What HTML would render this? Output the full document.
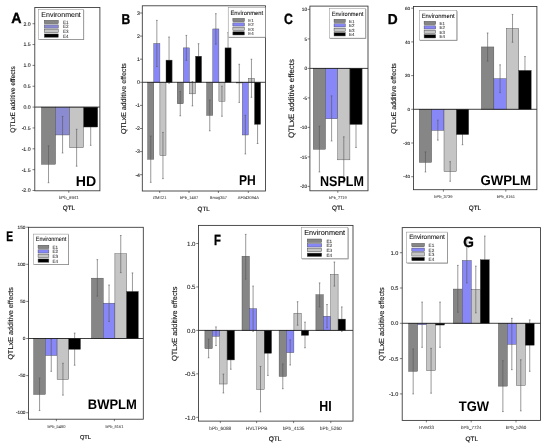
<!DOCTYPE html>
<html lang="en"><head><meta charset="utf-8"><title>QTLxE additive effects</title>
<style>html,body{margin:0;padding:0;background:#fff}body{width:550px;height:447px;overflow:hidden}svg{display:block;font-family:'Liberation Sans', 'DejaVu Sans', sans-serif;text-rendering:geometricPrecision}</style>
</head><body>
<svg width="550" height="447" viewBox="0 0 550 447">
<defs><filter id="soft" x="-2%" y="-2%" width="104%" height="104%"><feGaussianBlur stdDeviation="0.42"/></filter></defs>
<rect width="550" height="447" fill="#fff"/>
<g filter="url(#soft)">
<g id="panel-A">
<path d="M90.68 108.77V145.3M89.88 108.77h1.6M89.88 145.3h1.6" stroke="#555" stroke-width="0.6" fill="none"/>
<rect x="41.5" y="107.1" width="14.05" height="57.13" fill="#868686" stroke="#444" stroke-width="0.4"/>
<rect x="55.55" y="107.1" width="14.05" height="27.86" fill="#8b8bd2" stroke="#444" stroke-width="0.4"/>
<rect x="69.6" y="107.1" width="14.05" height="40.66" fill="#c5c5c5" stroke="#444" stroke-width="0.4"/>
<rect x="83.65" y="107.1" width="14.05" height="19.93" fill="#050505" stroke="#444" stroke-width="0.4"/>
<path d="M48.52 145.8V182.7M47.73 145.8h1.6M47.73 182.7h1.6" stroke="#555" stroke-width="0.6" fill="none"/>
<path d="M62.57 116.48V152.97M61.77 116.48h1.6M61.77 152.97h1.6" stroke="#555" stroke-width="0.6" fill="none"/>
<path d="M76.62 129.28V166.19M75.83 129.28h1.6M75.83 166.19h1.6" stroke="#555" stroke-width="0.6" fill="none"/>
<path d="M34.8 107.1H99.9" stroke="#111" stroke-width="0.8"/>
<rect x="34.8" y="7.5" width="65.1" height="183.3" fill="none" stroke="#333" stroke-width="0.85"/>
<text x="30.6" y="25.57" font-size="5.2" text-anchor="end" fill="#2a2a2a" stroke="#2a2a2a" stroke-width="0.12">2.0</text>
<text x="30.6" y="46.42" font-size="5.2" text-anchor="end" fill="#2a2a2a" stroke="#2a2a2a" stroke-width="0.12">1.5</text>
<text x="30.6" y="67.27" font-size="5.2" text-anchor="end" fill="#2a2a2a" stroke="#2a2a2a" stroke-width="0.12">1.0</text>
<text x="30.6" y="88.12" font-size="5.2" text-anchor="end" fill="#2a2a2a" stroke="#2a2a2a" stroke-width="0.12">0.5</text>
<text x="30.6" y="108.97" font-size="5.2" text-anchor="end" fill="#2a2a2a" stroke="#2a2a2a" stroke-width="0.12">0.0</text>
<text x="30.6" y="129.82" font-size="5.2" text-anchor="end" fill="#2a2a2a" stroke="#2a2a2a" stroke-width="0.12">-0.5</text>
<text x="30.6" y="150.67" font-size="5.2" text-anchor="end" fill="#2a2a2a" stroke="#2a2a2a" stroke-width="0.12">-1.0</text>
<text x="30.6" y="171.52" font-size="5.2" text-anchor="end" fill="#2a2a2a" stroke="#2a2a2a" stroke-width="0.12">-1.5</text>
<text x="30.6" y="192.37" font-size="5.2" text-anchor="end" fill="#2a2a2a" stroke="#2a2a2a" stroke-width="0.12">-2.0</text>
<text x="68.8" y="198.95" font-size="4.3" text-anchor="middle" fill="#444" stroke="#444" stroke-width="0.06">bPb_6941</text>
<path d="M32.5 23.7H34.8M32.5 44.55H34.8M32.5 65.4H34.8M32.5 86.25H34.8M32.5 107.1H34.8M32.5 127.95H34.8M32.5 148.8H34.8M32.5 169.65H34.8M32.5 190.5H34.8M68.8 190.8V192.8" stroke="#2a2a2a" stroke-width="0.6" fill="none"/>
<text x="68.9" y="209.87" font-size="6.3" text-anchor="middle" fill="#111" stroke="#111" stroke-width="0.18">QTL</text>
<text x="14.88" y="99.5" font-size="6.6" text-anchor="middle" fill="#111" stroke="#111" stroke-width="0.12" textLength="66.4" lengthAdjust="spacingAndGlyphs" transform="rotate(-90 14.88 99.5)">QTLxE additive effects</text>
<rect x="39.3" y="9.9" width="44.8" height="30.1" fill="#777"/>
<rect x="38.7" y="9.3" width="44.8" height="30.1" fill="#fff" stroke="#8a8a8a" stroke-width="0.5"/>
<text x="41.39" y="16.52" font-size="7.02" text-anchor="start" fill="#111" stroke="#111" stroke-width="0.08" textLength="39.42" lengthAdjust="spacingAndGlyphs">Environment</text>
<rect x="44.34" y="20.35" width="13.89" height="3.25" fill="#868686" stroke="#444" stroke-width="0.45"/>
<text x="62.89" y="23.9" font-size="4.51" text-anchor="start" fill="#3a3a3a" stroke="#3a3a3a" stroke-width="0.08">E1</text>
<rect x="44.34" y="24.89" width="13.89" height="3.25" fill="#8b8bd2" stroke="#444" stroke-width="0.45"/>
<text x="62.89" y="28.44" font-size="4.51" text-anchor="start" fill="#3a3a3a" stroke="#3a3a3a" stroke-width="0.08">E2</text>
<rect x="44.34" y="29.44" width="13.89" height="3.25" fill="#c5c5c5" stroke="#444" stroke-width="0.45"/>
<text x="62.89" y="32.99" font-size="4.51" text-anchor="start" fill="#3a3a3a" stroke="#3a3a3a" stroke-width="0.08">E3</text>
<rect x="44.34" y="33.98" width="13.89" height="3.25" fill="#050505" stroke="#444" stroke-width="0.45"/>
<text x="62.89" y="37.53" font-size="4.51" text-anchor="start" fill="#3a3a3a" stroke="#3a3a3a" stroke-width="0.08">E4</text>
<text x="11.3" y="23.3" font-size="14.8" text-anchor="start" fill="#000" font-weight="bold" textLength="10.3" lengthAdjust="spacingAndGlyphs" stroke="#000" stroke-width="0.35">A</text>
<text x="75.8" y="186" font-size="14.25" text-anchor="start" fill="#000" font-weight="bold" textLength="20.4" lengthAdjust="spacingAndGlyphs">HD</text>
</g>
<g id="panel-B">
<path d="M169.05 37.02V83.22M168.25 37.02h1.6M168.25 83.22h1.6" stroke="#555" stroke-width="0.6" fill="none"/>
<rect x="147.7" y="82.3" width="6.1" height="76.92" fill="#868686" stroke="#444" stroke-width="0.4"/>
<rect x="153.8" y="43.49" width="6.1" height="38.81" fill="#8787f7" stroke="#444" stroke-width="0.4"/>
<rect x="159.9" y="82.3" width="6.1" height="73.23" fill="#c5c5c5" stroke="#444" stroke-width="0.4"/>
<rect x="166" y="60.12" width="6.1" height="22.18" fill="#050505" stroke="#444" stroke-width="0.4"/>
<path d="M150.75 136.12V182.32M149.95 136.12h1.6M149.95 182.32h1.6" stroke="#555" stroke-width="0.6" fill="none"/>
<path d="M156.85 20.39V66.59M156.05 20.39h1.6M156.05 66.59h1.6" stroke="#555" stroke-width="0.6" fill="none"/>
<path d="M162.95 132.43V178.63M162.15 132.43h1.6M162.15 178.63h1.6" stroke="#555" stroke-width="0.6" fill="none"/>
<path d="M198.55 43.72V68.44M197.75 43.72h1.6M197.75 68.44h1.6" stroke="#555" stroke-width="0.6" fill="none"/>
<rect x="177.2" y="82.3" width="6.1" height="21.48" fill="#868686" stroke="#444" stroke-width="0.4"/>
<rect x="183.3" y="47.88" width="6.1" height="34.42" fill="#8787f7" stroke="#444" stroke-width="0.4"/>
<rect x="189.4" y="82.3" width="6.1" height="11.55" fill="#c5c5c5" stroke="#444" stroke-width="0.4"/>
<rect x="195.5" y="56.2" width="6.1" height="26.1" fill="#050505" stroke="#444" stroke-width="0.4"/>
<path d="M180.25 91.54V115.8M179.45 91.54h1.6M179.45 115.8h1.6" stroke="#555" stroke-width="0.6" fill="none"/>
<path d="M186.35 35.41V60.35M185.55 35.41h1.6M185.55 60.35h1.6" stroke="#555" stroke-width="0.6" fill="none"/>
<path d="M192.45 81.61V105.86M191.65 81.61h1.6M191.65 105.86h1.6" stroke="#555" stroke-width="0.6" fill="none"/>
<path d="M228.05 32.63V63.13M227.25 32.63h1.6M227.25 63.13h1.6" stroke="#555" stroke-width="0.6" fill="none"/>
<rect x="206.7" y="82.3" width="6.1" height="33.03" fill="#868686" stroke="#444" stroke-width="0.4"/>
<rect x="212.8" y="28.94" width="6.1" height="53.36" fill="#8787f7" stroke="#444" stroke-width="0.4"/>
<rect x="218.9" y="82.3" width="6.1" height="18.94" fill="#c5c5c5" stroke="#444" stroke-width="0.4"/>
<rect x="225" y="47.88" width="6.1" height="34.42" fill="#050505" stroke="#444" stroke-width="0.4"/>
<path d="M209.75 100.09V130.81M208.95 100.09h1.6M208.95 130.81h1.6" stroke="#555" stroke-width="0.6" fill="none"/>
<path d="M215.85 13.69V44.18M215.05 13.69h1.6M215.05 44.18h1.6" stroke="#555" stroke-width="0.6" fill="none"/>
<path d="M221.95 86.23V116.26M221.15 86.23h1.6M221.15 116.26h1.6" stroke="#555" stroke-width="0.6" fill="none"/>
<path d="M257.55 105.4V143.51M256.75 105.4h1.6M256.75 143.51h1.6" stroke="#555" stroke-width="0.6" fill="none"/>
<rect x="236.2" y="82.3" width="6.1" height="0.69" fill="#868686" stroke="#444" stroke-width="0.4"/>
<rect x="242.3" y="82.3" width="6.1" height="52.67" fill="#8787f7" stroke="#444" stroke-width="0.4"/>
<rect x="248.4" y="78.37" width="6.1" height="3.93" fill="#c5c5c5" stroke="#444" stroke-width="0.4"/>
<rect x="254.5" y="82.3" width="6.1" height="42.04" fill="#050505" stroke="#444" stroke-width="0.4"/>
<path d="M239.25 64.28V102.4M238.45 64.28h1.6M238.45 102.4h1.6" stroke="#555" stroke-width="0.6" fill="none"/>
<path d="M245.35 115.33V153.91M244.55 115.33h1.6M244.55 153.91h1.6" stroke="#555" stroke-width="0.6" fill="none"/>
<path d="M251.45 59.2V97.31M250.65 59.2h1.6M250.65 97.31h1.6" stroke="#555" stroke-width="0.6" fill="none"/>
<path d="M142.3 82.3H265.5" stroke="#111" stroke-width="0.8"/>
<rect x="142.3" y="5.8" width="123.2" height="185.2" fill="none" stroke="#333" stroke-width="0.85"/>
<text x="140" y="14.87" font-size="5.2" text-anchor="end" fill="#2a2a2a" stroke="#2a2a2a" stroke-width="0.12">3</text>
<text x="140" y="37.97" font-size="5.2" text-anchor="end" fill="#2a2a2a" stroke="#2a2a2a" stroke-width="0.12">2</text>
<text x="140" y="61.07" font-size="5.2" text-anchor="end" fill="#2a2a2a" stroke="#2a2a2a" stroke-width="0.12">1</text>
<text x="140" y="84.17" font-size="5.2" text-anchor="end" fill="#2a2a2a" stroke="#2a2a2a" stroke-width="0.12">0</text>
<text x="140" y="107.27" font-size="5.2" text-anchor="end" fill="#2a2a2a" stroke="#2a2a2a" stroke-width="0.12">-1</text>
<text x="140" y="130.37" font-size="5.2" text-anchor="end" fill="#2a2a2a" stroke="#2a2a2a" stroke-width="0.12">-2</text>
<text x="140" y="153.47" font-size="5.2" text-anchor="end" fill="#2a2a2a" stroke="#2a2a2a" stroke-width="0.12">-3</text>
<text x="140" y="176.57" font-size="5.2" text-anchor="end" fill="#2a2a2a" stroke="#2a2a2a" stroke-width="0.12">-4</text>
<text x="159.7" y="198.64" font-size="4" text-anchor="middle" fill="#444" stroke="#444" stroke-width="0.06">GMS21</text>
<text x="189" y="198.64" font-size="4" text-anchor="middle" fill="#444" stroke="#444" stroke-width="0.06">bPb_1487</text>
<text x="218.4" y="198.64" font-size="4" text-anchor="middle" fill="#444" stroke="#444" stroke-width="0.06">Bmag357</text>
<text x="248.3" y="198.64" font-size="4" text-anchor="middle" fill="#444" stroke="#444" stroke-width="0.06">AF043094A</text>
<path d="M140 13H142.3M140 36.1H142.3M140 59.2H142.3M140 82.3H142.3M140 105.4H142.3M140 128.5H142.3M140 151.6H142.3M140 174.7H142.3M159.7 191V193M189 191V193M218.4 191V193M248.3 191V193" stroke="#2a2a2a" stroke-width="0.6" fill="none"/>
<text x="203.6" y="210.93" font-size="6.2" text-anchor="middle" fill="#111" stroke="#111" stroke-width="0.18">QTL</text>
<text x="125.94" y="98.6" font-size="7.06" text-anchor="middle" fill="#111" stroke="#111" stroke-width="0.12" textLength="71" lengthAdjust="spacingAndGlyphs" transform="rotate(-90 125.94 98.6)">QTLxE additive effects</text>
<rect x="228.8" y="8.2" width="37.1" height="29.5" fill="#777"/>
<rect x="228.2" y="7.6" width="37.1" height="29.5" fill="#fff" stroke="#8a8a8a" stroke-width="0.5"/>
<text x="230.43" y="14.68" font-size="6.05" text-anchor="start" fill="#111" stroke="#111" stroke-width="0.08" textLength="32.65" lengthAdjust="spacingAndGlyphs">Environment</text>
<rect x="232.87" y="18.43" width="11.5" height="3.19" fill="#868686" stroke="#444" stroke-width="0.45"/>
<text x="248.23" y="21.91" font-size="4.42" text-anchor="start" fill="#3a3a3a" stroke="#3a3a3a" stroke-width="0.08">E1</text>
<rect x="232.87" y="22.88" width="11.5" height="3.19" fill="#8787f7" stroke="#444" stroke-width="0.45"/>
<text x="248.23" y="26.36" font-size="4.42" text-anchor="start" fill="#3a3a3a" stroke="#3a3a3a" stroke-width="0.08">E2</text>
<rect x="232.87" y="27.34" width="11.5" height="3.19" fill="#c5c5c5" stroke="#444" stroke-width="0.45"/>
<text x="248.23" y="30.82" font-size="4.42" text-anchor="start" fill="#3a3a3a" stroke="#3a3a3a" stroke-width="0.08">E3</text>
<rect x="232.87" y="31.79" width="11.5" height="3.19" fill="#050505" stroke="#444" stroke-width="0.45"/>
<text x="248.23" y="35.27" font-size="4.42" text-anchor="start" fill="#3a3a3a" stroke="#3a3a3a" stroke-width="0.08">E4</text>
<text x="121.6" y="24.1" font-size="14.25" text-anchor="start" fill="#000" font-weight="bold" textLength="8.7" lengthAdjust="spacingAndGlyphs" stroke="#000" stroke-width="0.35">B</text>
<text x="239" y="184.7" font-size="14.11" text-anchor="start" fill="#000" font-weight="bold" textLength="16.8" lengthAdjust="spacingAndGlyphs">PH</text>
</g>
<g id="panel-C">
<path d="M356 101.44V147.46M355.2 101.44h1.6M355.2 147.46h1.6" stroke="#555" stroke-width="0.6" fill="none"/>
<rect x="313.3" y="68.4" width="12.2" height="80.83" fill="#868686" stroke="#444" stroke-width="0.4"/>
<rect x="325.5" y="68.4" width="12.2" height="50.39" fill="#8787f7" stroke="#444" stroke-width="0.4"/>
<rect x="337.7" y="68.4" width="12.2" height="91.45" fill="#c5c5c5" stroke="#444" stroke-width="0.4"/>
<rect x="349.9" y="68.4" width="12.2" height="56.05" fill="#050505" stroke="#444" stroke-width="0.4"/>
<path d="M319.4 126.22V171.95M318.6 126.22h1.6M318.6 171.95h1.6" stroke="#555" stroke-width="0.6" fill="none"/>
<path d="M331.6 95.89V140.97M330.8 95.89h1.6M330.8 140.97h1.6" stroke="#555" stroke-width="0.6" fill="none"/>
<path d="M343.8 136.84V182.86M343 136.84h1.6M343 182.86h1.6" stroke="#555" stroke-width="0.6" fill="none"/>
<path d="M309.9 68.4H368" stroke="#111" stroke-width="0.8"/>
<rect x="309.9" y="6.1" width="58.1" height="184.7" fill="none" stroke="#333" stroke-width="0.85"/>
<text x="307.2" y="11.13" font-size="4.8" text-anchor="end" fill="#2a2a2a" stroke="#2a2a2a" stroke-width="0.12">10</text>
<text x="307.2" y="40.63" font-size="4.8" text-anchor="end" fill="#2a2a2a" stroke="#2a2a2a" stroke-width="0.12">5</text>
<text x="307.2" y="70.13" font-size="4.8" text-anchor="end" fill="#2a2a2a" stroke="#2a2a2a" stroke-width="0.12">0</text>
<text x="307.2" y="99.63" font-size="4.8" text-anchor="end" fill="#2a2a2a" stroke="#2a2a2a" stroke-width="0.12">-5</text>
<text x="307.2" y="129.13" font-size="4.8" text-anchor="end" fill="#2a2a2a" stroke="#2a2a2a" stroke-width="0.12">-10</text>
<text x="307.2" y="158.63" font-size="4.8" text-anchor="end" fill="#2a2a2a" stroke="#2a2a2a" stroke-width="0.12">-15</text>
<text x="307.2" y="188.13" font-size="4.8" text-anchor="end" fill="#2a2a2a" stroke="#2a2a2a" stroke-width="0.12">-20</text>
<text x="337.8" y="198.6" font-size="3.9" text-anchor="middle" fill="#444" stroke="#444" stroke-width="0.06">bPb_7719</text>
<path d="M307.6 9.4H309.9M307.6 38.9H309.9M307.6 68.4H309.9M307.6 97.9H309.9M307.6 127.4H309.9M307.6 156.9H309.9M307.6 186.4H309.9M337.8 190.8V192.8" stroke="#2a2a2a" stroke-width="0.6" fill="none"/>
<text x="338.2" y="210.37" font-size="6.3" text-anchor="middle" fill="#111" stroke="#111" stroke-width="0.18">QTL</text>
<text x="294.03" y="98.6" font-size="7.85" text-anchor="middle" fill="#111" stroke="#111" stroke-width="0.12" textLength="79" lengthAdjust="spacingAndGlyphs" transform="rotate(-90 294.03 98.6)">QTLxE additive effects</text>
<rect x="330.1" y="9" width="36.1" height="29.7" fill="#777"/>
<rect x="329.5" y="8.4" width="36.1" height="29.7" fill="#fff" stroke="#8a8a8a" stroke-width="0.5"/>
<text x="331.67" y="15.53" font-size="6.09" text-anchor="start" fill="#111" stroke="#111" stroke-width="0.08" textLength="31.77" lengthAdjust="spacingAndGlyphs">Environment</text>
<rect x="334.05" y="19.3" width="11.19" height="3.21" fill="#868686" stroke="#444" stroke-width="0.45"/>
<text x="348.99" y="22.8" font-size="4.46" text-anchor="start" fill="#3a3a3a" stroke="#3a3a3a" stroke-width="0.08">E1</text>
<rect x="334.05" y="23.78" width="11.19" height="3.21" fill="#8787f7" stroke="#444" stroke-width="0.45"/>
<text x="348.99" y="27.29" font-size="4.46" text-anchor="start" fill="#3a3a3a" stroke="#3a3a3a" stroke-width="0.08">E2</text>
<rect x="334.05" y="28.27" width="11.19" height="3.21" fill="#c5c5c5" stroke="#444" stroke-width="0.45"/>
<text x="348.99" y="31.77" font-size="4.46" text-anchor="start" fill="#3a3a3a" stroke="#3a3a3a" stroke-width="0.08">E3</text>
<rect x="334.05" y="32.75" width="11.19" height="3.21" fill="#050505" stroke="#444" stroke-width="0.45"/>
<text x="348.99" y="36.26" font-size="4.46" text-anchor="start" fill="#3a3a3a" stroke="#3a3a3a" stroke-width="0.08">E4</text>
<text x="284.1" y="23.6" font-size="14.94" text-anchor="start" fill="#000" font-weight="bold" textLength="8.9" lengthAdjust="spacingAndGlyphs" stroke="#000" stroke-width="0.35">C</text>
<text x="320" y="186" font-size="14.11" text-anchor="start" fill="#000" font-weight="bold" textLength="44" lengthAdjust="spacingAndGlyphs">NSPLM</text>
</g>
<g id="panel-D">
<path d="M462.53 124.47V144.69M461.73 124.47h1.6M461.73 144.69h1.6" stroke="#555" stroke-width="0.6" fill="none"/>
<rect x="419.3" y="109.3" width="12.35" height="53.08" fill="#868686" stroke="#444" stroke-width="0.4"/>
<rect x="431.65" y="109.3" width="12.35" height="21.06" fill="#8787f7" stroke="#444" stroke-width="0.4"/>
<rect x="444" y="109.3" width="12.35" height="62.34" fill="#c5c5c5" stroke="#444" stroke-width="0.4"/>
<rect x="456.35" y="109.3" width="12.35" height="25.27" fill="#050505" stroke="#444" stroke-width="0.4"/>
<path d="M425.48 151.93V171.98M424.68 151.93h1.6M424.68 171.98h1.6" stroke="#555" stroke-width="0.6" fill="none"/>
<path d="M437.83 120.08V140.14M437.03 120.08h1.6M437.03 140.14h1.6" stroke="#555" stroke-width="0.6" fill="none"/>
<path d="M450.18 161.7V181.25M449.38 161.7h1.6M449.38 181.25h1.6" stroke="#555" stroke-width="0.6" fill="none"/>
<path d="M524.98 56.56V84.19M524.18 56.56h1.6M524.18 84.19h1.6" stroke="#555" stroke-width="0.6" fill="none"/>
<rect x="481.4" y="46.95" width="12.45" height="62.34" fill="#868686" stroke="#444" stroke-width="0.4"/>
<rect x="493.85" y="78.63" width="12.45" height="30.67" fill="#8787f7" stroke="#444" stroke-width="0.4"/>
<rect x="506.3" y="28.42" width="12.45" height="80.88" fill="#c5c5c5" stroke="#444" stroke-width="0.4"/>
<rect x="518.75" y="70.38" width="12.45" height="38.92" fill="#050505" stroke="#444" stroke-width="0.4"/>
<path d="M487.62 32.97V61.11M486.82 32.97h1.6M486.82 61.11h1.6" stroke="#555" stroke-width="0.6" fill="none"/>
<path d="M500.07 64.82V92.62M499.27 64.82h1.6M499.27 92.62h1.6" stroke="#555" stroke-width="0.6" fill="none"/>
<path d="M512.52 14.43V42.24M511.72 14.43h1.6M511.72 42.24h1.6" stroke="#555" stroke-width="0.6" fill="none"/>
<path d="M413.5 109.3H536.9" stroke="#111" stroke-width="0.8"/>
<rect x="413.5" y="6.5" width="123.4" height="183.2" fill="none" stroke="#333" stroke-width="0.85"/>
<text x="410" y="9.86" font-size="4.6" text-anchor="end" fill="#2a2a2a" stroke="#2a2a2a" stroke-width="0.12">60</text>
<text x="410" y="43.56" font-size="4.6" text-anchor="end" fill="#2a2a2a" stroke="#2a2a2a" stroke-width="0.12">40</text>
<text x="410" y="77.26" font-size="4.6" text-anchor="end" fill="#2a2a2a" stroke="#2a2a2a" stroke-width="0.12">20</text>
<text x="410" y="110.96" font-size="4.6" text-anchor="end" fill="#2a2a2a" stroke="#2a2a2a" stroke-width="0.12">0</text>
<text x="410" y="144.66" font-size="4.6" text-anchor="end" fill="#2a2a2a" stroke="#2a2a2a" stroke-width="0.12">-20</text>
<text x="410" y="178.36" font-size="4.6" text-anchor="end" fill="#2a2a2a" stroke="#2a2a2a" stroke-width="0.12">-40</text>
<text x="443.4" y="198.24" font-size="4" text-anchor="middle" fill="#444" stroke="#444" stroke-width="0.06">bPb_3739</text>
<text x="505.8" y="198.24" font-size="4" text-anchor="middle" fill="#444" stroke="#444" stroke-width="0.06">bPb_8161</text>
<path d="M411.2 8.2H413.5M411.2 41.9H413.5M411.2 75.6H413.5M411.2 109.3H413.5M411.2 143H413.5M411.2 176.7H413.5M443.4 189.7V191.7M505.8 189.7V191.7" stroke="#2a2a2a" stroke-width="0.6" fill="none"/>
<text x="474.9" y="209.57" font-size="6.3" text-anchor="middle" fill="#111" stroke="#111" stroke-width="0.18">QTL</text>
<text x="396.12" y="98.4" font-size="7.01" text-anchor="middle" fill="#111" stroke="#111" stroke-width="0.12" textLength="70.5" lengthAdjust="spacingAndGlyphs" transform="rotate(-90 396.12 98.4)">QTLxE additive effects</text>
<rect x="420" y="11.1" width="37.4" height="29.6" fill="#777"/>
<rect x="419.4" y="10.5" width="37.4" height="29.6" fill="#fff" stroke="#8a8a8a" stroke-width="0.5"/>
<text x="421.64" y="17.6" font-size="6.07" text-anchor="start" fill="#111" stroke="#111" stroke-width="0.08" textLength="32.91" lengthAdjust="spacingAndGlyphs">Environment</text>
<rect x="424.11" y="21.36" width="11.59" height="3.2" fill="#868686" stroke="#444" stroke-width="0.45"/>
<text x="439.6" y="24.86" font-size="4.44" text-anchor="start" fill="#3a3a3a" stroke="#3a3a3a" stroke-width="0.08">E1</text>
<rect x="424.11" y="25.83" width="11.59" height="3.2" fill="#8787f7" stroke="#444" stroke-width="0.45"/>
<text x="439.6" y="29.33" font-size="4.44" text-anchor="start" fill="#3a3a3a" stroke="#3a3a3a" stroke-width="0.08">E2</text>
<rect x="424.11" y="30.3" width="11.59" height="3.2" fill="#c5c5c5" stroke="#444" stroke-width="0.45"/>
<text x="439.6" y="33.8" font-size="4.44" text-anchor="start" fill="#3a3a3a" stroke="#3a3a3a" stroke-width="0.08">E3</text>
<rect x="424.11" y="34.77" width="11.59" height="3.2" fill="#050505" stroke="#444" stroke-width="0.45"/>
<text x="439.6" y="38.26" font-size="4.44" text-anchor="start" fill="#3a3a3a" stroke="#3a3a3a" stroke-width="0.08">E4</text>
<text x="387.7" y="24.2" font-size="14.39" text-anchor="start" fill="#000" font-weight="bold" textLength="9.9" lengthAdjust="spacingAndGlyphs" stroke="#000" stroke-width="0.35">D</text>
<text x="480.5" y="185.4" font-size="13.97" text-anchor="start" fill="#000" font-weight="bold" textLength="50.6" lengthAdjust="spacingAndGlyphs">GWPLM</text>
</g>
<g id="panel-E">
<path d="M74.65 333.08V365.21M73.85 333.08h1.6M73.85 365.21h1.6" stroke="#555" stroke-width="0.6" fill="none"/>
<rect x="33.7" y="338.5" width="11.7" height="55.95" fill="#868686" stroke="#444" stroke-width="0.4"/>
<rect x="45.4" y="338.5" width="11.7" height="16.99" fill="#8787f7" stroke="#444" stroke-width="0.4"/>
<rect x="57.1" y="338.5" width="11.7" height="41.03" fill="#c5c5c5" stroke="#444" stroke-width="0.4"/>
<rect x="68.8" y="338.5" width="11.7" height="10.83" fill="#050505" stroke="#444" stroke-width="0.4"/>
<path d="M39.55 378.05V410.55M38.75 378.05h1.6M38.75 410.55h1.6" stroke="#555" stroke-width="0.6" fill="none"/>
<path d="M51.25 339.24V371.3M50.45 339.24h1.6M50.45 371.3h1.6" stroke="#555" stroke-width="0.6" fill="none"/>
<path d="M62.95 363.28V395.11M62.15 363.28h1.6M62.15 395.11h1.6" stroke="#555" stroke-width="0.6" fill="none"/>
<path d="M132.45 272.91V310.01M131.65 272.91h1.6M131.65 310.01h1.6" stroke="#555" stroke-width="0.6" fill="none"/>
<rect x="91.5" y="278.18" width="11.7" height="60.32" fill="#868686" stroke="#444" stroke-width="0.4"/>
<rect x="103.2" y="303.18" width="11.7" height="35.32" fill="#8787f7" stroke="#444" stroke-width="0.4"/>
<rect x="114.9" y="253.76" width="11.7" height="84.74" fill="#c5c5c5" stroke="#444" stroke-width="0.4"/>
<rect x="126.6" y="291.46" width="11.7" height="47.04" fill="#050505" stroke="#444" stroke-width="0.4"/>
<path d="M97.35 259.63V296.13M96.55 259.63h1.6M96.55 296.13h1.6" stroke="#555" stroke-width="0.6" fill="none"/>
<path d="M109.05 285V321.43M108.25 285h1.6M108.25 321.43h1.6" stroke="#555" stroke-width="0.6" fill="none"/>
<path d="M120.75 235.51V272.61M119.95 235.51h1.6M119.95 272.61h1.6" stroke="#555" stroke-width="0.6" fill="none"/>
<path d="M28.5 338.5H143.3" stroke="#111" stroke-width="0.8"/>
<rect x="28.5" y="227.3" width="114.8" height="191.9" fill="none" stroke="#333" stroke-width="0.85"/>
<text x="25.4" y="228.89" font-size="4.7" text-anchor="end" fill="#2a2a2a" stroke="#2a2a2a" stroke-width="0.12">150</text>
<text x="25.4" y="265.99" font-size="4.7" text-anchor="end" fill="#2a2a2a" stroke="#2a2a2a" stroke-width="0.12">100</text>
<text x="25.4" y="303.09" font-size="4.7" text-anchor="end" fill="#2a2a2a" stroke="#2a2a2a" stroke-width="0.12">50</text>
<text x="25.4" y="340.19" font-size="4.7" text-anchor="end" fill="#2a2a2a" stroke="#2a2a2a" stroke-width="0.12">0</text>
<text x="25.4" y="377.29" font-size="4.7" text-anchor="end" fill="#2a2a2a" stroke="#2a2a2a" stroke-width="0.12">-50</text>
<text x="25.4" y="414.39" font-size="4.7" text-anchor="end" fill="#2a2a2a" stroke="#2a2a2a" stroke-width="0.12">-100</text>
<text x="56.4" y="427.72" font-size="3.95" text-anchor="middle" fill="#444" stroke="#444" stroke-width="0.06">bPb_5480</text>
<text x="114.4" y="427.72" font-size="3.95" text-anchor="middle" fill="#444" stroke="#444" stroke-width="0.06">bPb_8161</text>
<path d="M26.2 227.2H28.5M26.2 264.3H28.5M26.2 301.4H28.5M26.2 338.5H28.5M26.2 375.6H28.5M26.2 412.7H28.5M56.4 419.2V421.2M114.4 419.2V421.2" stroke="#2a2a2a" stroke-width="0.6" fill="none"/>
<text x="85.4" y="439.32" font-size="5.6" text-anchor="middle" fill="#111" stroke="#111" stroke-width="0.18">QTL</text>
<text x="13.19" y="323.3" font-size="7.2" text-anchor="middle" fill="#111" stroke="#111" stroke-width="0.12" textLength="72.4" lengthAdjust="spacingAndGlyphs" transform="rotate(-90 13.19 323.3)">QTLxE additive effects</text>
<rect x="34.3" y="234.7" width="34.7" height="30.3" fill="#777"/>
<rect x="33.7" y="234.1" width="34.7" height="30.3" fill="#fff" stroke="#8a8a8a" stroke-width="0.5"/>
<text x="35.78" y="241.37" font-size="6.21" text-anchor="start" fill="#111" stroke="#111" stroke-width="0.08" textLength="30.54" lengthAdjust="spacingAndGlyphs">Environment</text>
<rect x="38.07" y="245.22" width="10.76" height="3.27" fill="#868686" stroke="#444" stroke-width="0.45"/>
<text x="52.44" y="248.8" font-size="4.54" text-anchor="start" fill="#3a3a3a" stroke="#3a3a3a" stroke-width="0.08">E1</text>
<rect x="38.07" y="249.8" width="10.76" height="3.27" fill="#8787f7" stroke="#444" stroke-width="0.45"/>
<text x="52.44" y="253.37" font-size="4.54" text-anchor="start" fill="#3a3a3a" stroke="#3a3a3a" stroke-width="0.08">E2</text>
<rect x="38.07" y="254.37" width="10.76" height="3.27" fill="#c5c5c5" stroke="#444" stroke-width="0.45"/>
<text x="52.44" y="257.95" font-size="4.54" text-anchor="start" fill="#3a3a3a" stroke="#3a3a3a" stroke-width="0.08">E3</text>
<rect x="38.07" y="258.95" width="10.76" height="3.27" fill="#050505" stroke="#444" stroke-width="0.45"/>
<text x="52.44" y="262.52" font-size="4.54" text-anchor="start" fill="#3a3a3a" stroke="#3a3a3a" stroke-width="0.08">E4</text>
<text x="6.2" y="241" font-size="13.97" text-anchor="start" fill="#000" font-weight="bold" textLength="6.8" lengthAdjust="spacingAndGlyphs" stroke="#000" stroke-width="0.35">E</text>
<text x="87.8" y="409.1" font-size="13.97" text-anchor="start" fill="#000" font-weight="bold" textLength="49" lengthAdjust="spacingAndGlyphs">BWPLM</text>
</g>
<g id="panel-F">
<path d="M230.8 350.65V369.24M230 350.65h1.6M230 369.24h1.6" stroke="#555" stroke-width="0.6" fill="none"/>
<rect x="204.9" y="330.4" width="7.4" height="18.25" fill="#868686" stroke="#444" stroke-width="0.4"/>
<rect x="212.3" y="330.4" width="7.4" height="5.91" fill="#8787f7" stroke="#444" stroke-width="0.4"/>
<rect x="219.7" y="330.4" width="7.4" height="53.62" fill="#c5c5c5" stroke="#444" stroke-width="0.4"/>
<rect x="227.1" y="330.4" width="7.4" height="29.55" fill="#050505" stroke="#444" stroke-width="0.4"/>
<path d="M208.6 339.09V357.77M207.8 339.09h1.6M207.8 357.77h1.6" stroke="#555" stroke-width="0.6" fill="none"/>
<path d="M216 326.92V345.52M215.2 326.92h1.6M215.2 345.52h1.6" stroke="#555" stroke-width="0.6" fill="none"/>
<path d="M223.4 374.11V392.97M222.6 374.11h1.6M222.6 392.97h1.6" stroke="#555" stroke-width="0.6" fill="none"/>
<path d="M267.9 331.1V375.41M267.1 331.1h1.6M267.1 375.41h1.6" stroke="#555" stroke-width="0.6" fill="none"/>
<rect x="242" y="256.19" width="7.4" height="74.21" fill="#868686" stroke="#444" stroke-width="0.4"/>
<rect x="249.4" y="308.67" width="7.4" height="21.73" fill="#8787f7" stroke="#444" stroke-width="0.4"/>
<rect x="256.8" y="330.4" width="7.4" height="59.09" fill="#c5c5c5" stroke="#444" stroke-width="0.4"/>
<rect x="264.2" y="330.4" width="7.4" height="22.85" fill="#050505" stroke="#444" stroke-width="0.4"/>
<path d="M245.7 234.38V279.13M244.9 234.38h1.6M244.9 279.13h1.6" stroke="#555" stroke-width="0.6" fill="none"/>
<path d="M253.1 286.08V331.27M252.3 286.08h1.6M252.3 331.27h1.6" stroke="#555" stroke-width="0.6" fill="none"/>
<path d="M260.5 366.46V411.83M259.7 366.46h1.6M259.7 411.83h1.6" stroke="#555" stroke-width="0.6" fill="none"/>
<path d="M305 322.14V347.78M304.2 322.14h1.6M304.2 347.78h1.6" stroke="#555" stroke-width="0.6" fill="none"/>
<rect x="279.1" y="330.4" width="7.4" height="46.06" fill="#868686" stroke="#444" stroke-width="0.4"/>
<rect x="286.5" y="330.4" width="7.4" height="22.25" fill="#8787f7" stroke="#444" stroke-width="0.4"/>
<rect x="293.9" y="313.19" width="7.4" height="17.21" fill="#c5c5c5" stroke="#444" stroke-width="0.4"/>
<rect x="301.3" y="330.4" width="7.4" height="4.95" fill="#050505" stroke="#444" stroke-width="0.4"/>
<path d="M282.8 364.03V388.71M282 364.03h1.6M282 388.71h1.6" stroke="#555" stroke-width="0.6" fill="none"/>
<path d="M290.2 339.96V364.99M289.4 339.96h1.6M289.4 364.99h1.6" stroke="#555" stroke-width="0.6" fill="none"/>
<path d="M297.6 301.72V325.19M296.8 301.72h1.6M296.8 325.19h1.6" stroke="#555" stroke-width="0.6" fill="none"/>
<path d="M341.8 306.94V331.27M341 306.94h1.6M341 331.27h1.6" stroke="#555" stroke-width="0.6" fill="none"/>
<rect x="315.9" y="294.77" width="7.4" height="35.63" fill="#868686" stroke="#444" stroke-width="0.4"/>
<rect x="323.3" y="316.24" width="7.4" height="14.16" fill="#8787f7" stroke="#444" stroke-width="0.4"/>
<rect x="330.7" y="274.35" width="7.4" height="56.05" fill="#c5c5c5" stroke="#444" stroke-width="0.4"/>
<rect x="338.1" y="319.1" width="7.4" height="11.3" fill="#050505" stroke="#444" stroke-width="0.4"/>
<path d="M319.6 282.95V306.94M318.8 282.95h1.6M318.8 306.94h1.6" stroke="#555" stroke-width="0.6" fill="none"/>
<path d="M327 304.5V327.79M326.2 304.5h1.6M326.2 327.79h1.6" stroke="#555" stroke-width="0.6" fill="none"/>
<path d="M334.4 262.01V286.08M333.6 262.01h1.6M333.6 286.08h1.6" stroke="#555" stroke-width="0.6" fill="none"/>
<path d="M198.5 330.4H353" stroke="#111" stroke-width="0.8"/>
<rect x="198.5" y="225.4" width="154.5" height="195.7" fill="none" stroke="#333" stroke-width="0.85"/>
<text x="195.5" y="245.7" font-size="6.1" text-anchor="end" fill="#2a2a2a" stroke="#2a2a2a" stroke-width="0.12">1.0</text>
<text x="195.5" y="289.15" font-size="6.1" text-anchor="end" fill="#2a2a2a" stroke="#2a2a2a" stroke-width="0.12">0.5</text>
<text x="195.5" y="332.6" font-size="6.1" text-anchor="end" fill="#2a2a2a" stroke="#2a2a2a" stroke-width="0.12">0.0</text>
<text x="195.5" y="376.05" font-size="6.1" text-anchor="end" fill="#2a2a2a" stroke="#2a2a2a" stroke-width="0.12">-0.5</text>
<text x="195.5" y="419.5" font-size="6.1" text-anchor="end" fill="#2a2a2a" stroke="#2a2a2a" stroke-width="0.12">-1.0</text>
<text x="220.3" y="430.03" font-size="4.8" text-anchor="middle" fill="#444" stroke="#444" stroke-width="0.06">bPb_6088</text>
<text x="256.6" y="430.03" font-size="4.8" text-anchor="middle" fill="#444" stroke="#444" stroke-width="0.06">HVLTPPB</text>
<text x="293.6" y="430.03" font-size="4.8" text-anchor="middle" fill="#444" stroke="#444" stroke-width="0.06">bPb_4135</text>
<text x="330.8" y="430.03" font-size="4.8" text-anchor="middle" fill="#444" stroke="#444" stroke-width="0.06">bPb_5260</text>
<path d="M196.2 243.5H198.5M196.2 286.95H198.5M196.2 330.4H198.5M196.2 373.85H198.5M196.2 417.3H198.5M220.3 421.1V423.1M256.6 421.1V423.1M293.6 421.1V423.1M330.8 421.1V423.1" stroke="#2a2a2a" stroke-width="0.6" fill="none"/>
<text x="275.1" y="441.28" font-size="6.6" text-anchor="middle" fill="#111" stroke="#111" stroke-width="0.18">QTL</text>
<text x="176.76" y="323.8" font-size="7.39" text-anchor="middle" fill="#111" stroke="#111" stroke-width="0.12" textLength="74.3" lengthAdjust="spacingAndGlyphs" transform="rotate(-90 176.76 323.8)">QTLxE additive effects</text>
<rect x="302" y="228.2" width="46.5" height="31.1" fill="#777"/>
<rect x="301.4" y="227.6" width="46.5" height="31.1" fill="#fff" stroke="#8a8a8a" stroke-width="0.5"/>
<text x="304.19" y="235.06" font-size="7.29" text-anchor="start" fill="#111" stroke="#111" stroke-width="0.08" textLength="40.92" lengthAdjust="spacingAndGlyphs">Environment</text>
<rect x="307.26" y="239.01" width="14.41" height="3.36" fill="#868686" stroke="#444" stroke-width="0.45"/>
<text x="326.51" y="242.68" font-size="4.66" text-anchor="start" fill="#3a3a3a" stroke="#3a3a3a" stroke-width="0.08">E1</text>
<rect x="307.26" y="243.71" width="14.41" height="3.36" fill="#8787f7" stroke="#444" stroke-width="0.45"/>
<text x="326.51" y="247.38" font-size="4.66" text-anchor="start" fill="#3a3a3a" stroke="#3a3a3a" stroke-width="0.08">E2</text>
<rect x="307.26" y="248.41" width="14.41" height="3.36" fill="#c5c5c5" stroke="#444" stroke-width="0.45"/>
<text x="326.51" y="252.08" font-size="4.66" text-anchor="start" fill="#3a3a3a" stroke="#3a3a3a" stroke-width="0.08">E3</text>
<rect x="307.26" y="253.1" width="14.41" height="3.36" fill="#050505" stroke="#444" stroke-width="0.45"/>
<text x="326.51" y="256.77" font-size="4.66" text-anchor="start" fill="#3a3a3a" stroke="#3a3a3a" stroke-width="0.08">E4</text>
<text x="214" y="244.6" font-size="14.8" text-anchor="start" fill="#000" font-weight="bold" textLength="6.9" lengthAdjust="spacingAndGlyphs" stroke="#000" stroke-width="0.35">F</text>
<text x="319.3" y="411" font-size="14.53" text-anchor="start" fill="#000" font-weight="bold" textLength="12.4" lengthAdjust="spacingAndGlyphs">HI</text>
</g>
<g id="panel-G">
<path d="M440.03 302.12V347.3M439.23 302.12h1.6M439.23 347.3h1.6" stroke="#555" stroke-width="0.6" fill="none"/>
<rect x="408.7" y="323.3" width="8.95" height="48.01" fill="#868686" stroke="#444" stroke-width="0.4"/>
<rect x="417.65" y="323.3" width="8.95" height="1.41" fill="#8787f7" stroke="#444" stroke-width="0.4"/>
<rect x="426.6" y="323.3" width="8.95" height="47.3" fill="#c5c5c5" stroke="#444" stroke-width="0.4"/>
<rect x="435.55" y="323.3" width="8.95" height="1.76" fill="#050505" stroke="#444" stroke-width="0.4"/>
<path d="M413.18 348.93V393.9M412.38 348.93h1.6M412.38 393.9h1.6" stroke="#555" stroke-width="0.6" fill="none"/>
<path d="M422.12 302.12V347.3M421.32 302.12h1.6M421.32 347.3h1.6" stroke="#555" stroke-width="0.6" fill="none"/>
<path d="M431.07 348.36V393.19M430.27 348.36h1.6M430.27 393.19h1.6" stroke="#555" stroke-width="0.6" fill="none"/>
<path d="M484.8 236.04V283.48M484 236.04h1.6M484 283.48h1.6" stroke="#555" stroke-width="0.6" fill="none"/>
<rect x="453.3" y="289.06" width="9" height="34.24" fill="#868686" stroke="#444" stroke-width="0.4"/>
<rect x="462.3" y="260.47" width="9" height="62.83" fill="#8787f7" stroke="#444" stroke-width="0.4"/>
<rect x="471.3" y="289.41" width="9" height="33.89" fill="#c5c5c5" stroke="#444" stroke-width="0.4"/>
<rect x="480.3" y="259.76" width="9" height="63.54" fill="#050505" stroke="#444" stroke-width="0.4"/>
<path d="M457.8 265.41V312.22M457 265.41h1.6M457 312.22h1.6" stroke="#555" stroke-width="0.6" fill="none"/>
<path d="M466.8 238.02V282.92M466 238.02h1.6M466 282.92h1.6" stroke="#555" stroke-width="0.6" fill="none"/>
<path d="M475.8 266.11V312.85M475 266.11h1.6M475 312.85h1.6" stroke="#555" stroke-width="0.6" fill="none"/>
<path d="M529.73 319.91V371.31M528.93 319.91h1.6M528.93 371.31h1.6" stroke="#555" stroke-width="0.6" fill="none"/>
<rect x="498.4" y="323.3" width="8.95" height="62.83" fill="#868686" stroke="#444" stroke-width="0.4"/>
<rect x="507.35" y="323.3" width="8.95" height="21.04" fill="#8787f7" stroke="#444" stroke-width="0.4"/>
<rect x="516.3" y="323.3" width="8.95" height="62.13" fill="#c5c5c5" stroke="#444" stroke-width="0.4"/>
<rect x="525.25" y="323.3" width="8.95" height="21.89" fill="#050505" stroke="#444" stroke-width="0.4"/>
<path d="M502.88 360.72V411.55M502.07 360.72h1.6M502.07 411.55h1.6" stroke="#555" stroke-width="0.6" fill="none"/>
<path d="M511.82 318.36V369.68M511.02 318.36h1.6M511.02 369.68h1.6" stroke="#555" stroke-width="0.6" fill="none"/>
<path d="M520.77 359.8V410.84M519.98 359.8h1.6M519.98 410.84h1.6" stroke="#555" stroke-width="0.6" fill="none"/>
<path d="M402.2 323.3H540.5" stroke="#111" stroke-width="0.8"/>
<rect x="402.2" y="227.6" width="138.3" height="192.8" fill="none" stroke="#333" stroke-width="0.85"/>
<text x="398.4" y="254.68" font-size="5.5" text-anchor="end" fill="#2a2a2a" stroke="#2a2a2a" stroke-width="0.12">1.0</text>
<text x="398.4" y="289.98" font-size="5.5" text-anchor="end" fill="#2a2a2a" stroke="#2a2a2a" stroke-width="0.12">0.5</text>
<text x="398.4" y="325.28" font-size="5.5" text-anchor="end" fill="#2a2a2a" stroke="#2a2a2a" stroke-width="0.12">0.0</text>
<text x="398.4" y="360.58" font-size="5.5" text-anchor="end" fill="#2a2a2a" stroke="#2a2a2a" stroke-width="0.12">-0.5</text>
<text x="398.4" y="395.88" font-size="5.5" text-anchor="end" fill="#2a2a2a" stroke="#2a2a2a" stroke-width="0.12">-1.0</text>
<text x="426.4" y="429.12" font-size="4.5" text-anchor="middle" fill="#444" stroke="#444" stroke-width="0.06">HVM33</text>
<text x="471.2" y="429.12" font-size="4.5" text-anchor="middle" fill="#444" stroke="#444" stroke-width="0.06">bPb_7724</text>
<text x="516" y="429.12" font-size="4.5" text-anchor="middle" fill="#444" stroke="#444" stroke-width="0.06">bPb_5260</text>
<path d="M399.9 252.7H402.2M399.9 288H402.2M399.9 323.3H402.2M399.9 358.6H402.2M399.9 393.9H402.2M426.4 420.4V422.4M471.2 420.4V422.4M516 420.4V422.4" stroke="#2a2a2a" stroke-width="0.6" fill="none"/>
<text x="471.8" y="440.6" font-size="6.4" text-anchor="middle" fill="#111" stroke="#111" stroke-width="0.18">QTL</text>
<text x="383.83" y="324" font-size="7.32" text-anchor="middle" fill="#111" stroke="#111" stroke-width="0.12" textLength="73.6" lengthAdjust="spacingAndGlyphs" transform="rotate(-90 383.83 324)">QTLxE additive effects</text>
<rect x="407.3" y="232.7" width="40.6" height="30.8" fill="#777"/>
<rect x="406.7" y="232.1" width="40.6" height="30.8" fill="#fff" stroke="#8a8a8a" stroke-width="0.5"/>
<text x="409.14" y="239.49" font-size="6.37" text-anchor="start" fill="#111" stroke="#111" stroke-width="0.08" textLength="35.73" lengthAdjust="spacingAndGlyphs">Environment</text>
<rect x="411.82" y="243.4" width="12.59" height="3.33" fill="#868686" stroke="#444" stroke-width="0.45"/>
<text x="428.62" y="247.04" font-size="4.62" text-anchor="start" fill="#3a3a3a" stroke="#3a3a3a" stroke-width="0.08">E1</text>
<rect x="411.82" y="248.05" width="12.59" height="3.33" fill="#8787f7" stroke="#444" stroke-width="0.45"/>
<text x="428.62" y="251.69" font-size="4.62" text-anchor="start" fill="#3a3a3a" stroke="#3a3a3a" stroke-width="0.08">E2</text>
<rect x="411.82" y="252.71" width="12.59" height="3.33" fill="#c5c5c5" stroke="#444" stroke-width="0.45"/>
<text x="428.62" y="256.34" font-size="4.62" text-anchor="start" fill="#3a3a3a" stroke="#3a3a3a" stroke-width="0.08">E3</text>
<rect x="411.82" y="257.36" width="12.59" height="3.33" fill="#050505" stroke="#444" stroke-width="0.45"/>
<text x="428.62" y="260.99" font-size="4.62" text-anchor="start" fill="#3a3a3a" stroke="#3a3a3a" stroke-width="0.08">E4</text>
<text x="463.2" y="247.4" font-size="14.66" text-anchor="start" fill="#000" font-weight="bold" textLength="10.6" lengthAdjust="spacingAndGlyphs" stroke="#000" stroke-width="0.35">G</text>
<text x="458.8" y="410.5" font-size="13.83" text-anchor="start" fill="#000" font-weight="bold" textLength="30.3" lengthAdjust="spacingAndGlyphs">TGW</text>
</g>
</g></svg></body></html>
